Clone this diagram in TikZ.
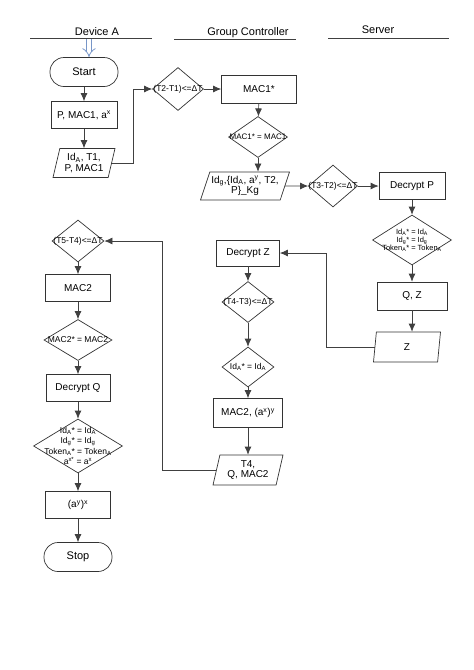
\documentclass[tikz,border=0pt]{standalone}
\usepackage{fontspec}
\setmainfont{Liberation Sans}
\usetikzlibrary{shapes.geometric,arrows.meta}

\begin{document}
\begin{tikzpicture}[x=1pt,y=-1pt,
  box/.style={draw=black!80, line width=0.7pt, minimum width=66pt, minimum height=27pt, inner sep=1pt, align=center, font=\fontsize{10}{11}\selectfont},
  term/.style={box, rounded corners=14pt, minimum width=68pt, minimum height=29pt, font=\fontsize{11}{12}\selectfont},
  io/.style={box, trapezium, trapezium left angle=72, trapezium right angle=108, trapezium stretches body, font=\fontsize{10}{10.5}\selectfont},
  dec/.style={draw=black!80, line width=0.7pt, diamond, inner sep=0pt},
  dtext/.style={font=\fontsize{8.5}{9.5}\selectfont, align=center, inner sep=0pt},
  flow/.style={draw=black!75, line width=0.7pt, -{Latex[length=8pt,width=7pt]}},
  hollow/.style={draw={rgb,255:red,120;green,150;blue,200}, double=white, double distance=4pt, line width=0.8pt, -{Implies[length=5pt]}},
  head/.style={font=\fontsize{11}{12}\selectfont}]
\useasboundingbox (0,0) rectangle (474,670);

% swim lane headers
\node[head] (hdA) at (97,32) {Device A};
\node[head] (hdG) at (248,33) {Group Controller};
\node[head] (hdS) at (378,30) {Server};
\draw[black!75, line width=0.7pt] (30,38) -- (152,38);
\draw[black!75, line width=0.7pt] (174,39) -- (296,39);
\draw[black!75, line width=0.7pt] (328,38) -- (449,38);

% device A, first part
\coordinate (entry) at (89,39);
\node[term] (start) at (84,72) {Start};
\node[box] (sendA) at (84,115) {P, MAC1, a\textsuperscript{x}};
\node[io, minimum width=62pt, minimum height=29pt] (msg1) at (84,163) {Id\textsubscript{A}, T1,\\P, MAC1};
\draw[hollow] (entry) -- (entry |- start.north);
\draw[flow] (start) -- (sendA);
\draw[flow] (sendA) -- (msg1);

% group controller, first part
\node[dec, minimum width=51pt, minimum height=43pt, label={[dtext]center:{(T2-T1)<=ΔT}}] (chk1) at (178,89) {};
\node[box, minimum width=75pt, minimum height=28pt] (mac1) at (259,89) {MAC1*};
\node[dec, minimum width=59pt, minimum height=41pt, label={[dtext, font=\fontsize{8}{9}\selectfont]center:{MAC1* = MAC1}}] (chk2) at (258,137) {};
\node[io, trapezium left angle=67, trapezium right angle=113, minimum width=89pt, minimum height=28pt] (msg2) at (245,186) {Id\textsubscript{g},\{Id\textsubscript{A}, a\textsuperscript{y}, T2,\\P\}\_Kg};
\coordinate (bend1) at (133,89);
\draw[flow] (msg1.east) -| (bend1) -- (chk1.west);
\draw[flow] (chk1) -- (mac1);
\draw[flow] (mac1) -- (chk2);
\draw[flow] (chk2) -- (chk2.south |- msg2.north);

% server
\node[dec, minimum width=49pt, minimum height=42pt, label={[dtext]center:{(T3-T2)<=ΔT}}] (chk3) at (333,186) {};
\node[box] (decP) at (412,186) {Decrypt P};
\node[dec, minimum width=79pt, minimum height=50pt, label={[dtext, font=\fontsize{7.5}{8}\selectfont]center:{Id\textsubscript{A}* = Id\textsubscript{A}\\Id\textsubscript{g}* = Id\textsubscript{g}\\Token\textsubscript{A}* = Token\textsubscript{A}}}] (chk4) at (412,240) {};
\node[box, minimum width=70pt, minimum height=28pt] (qz) at (412,296) {Q, Z};
\node[io, minimum width=67pt, minimum height=30pt] (msgZ) at (407,347) {Z};
\draw[flow] (msg2.east) -- (chk3.west);
\draw[flow] (chk3) -- (decP);
\draw[flow] (decP) -- (chk4);
\draw[flow] (chk4) -- (qz);
\draw[flow] (qz) -- (qz |- msgZ.north);

% group controller, second part
\node[box, minimum width=63pt, minimum height=26pt] (decZ) at (248,253) {Decrypt Z};
\node[dec, minimum width=52pt, minimum height=41pt, label={[dtext]center:{(T4-T3)<=ΔT}}] (chk5) at (248,302) {};
\node[dec, minimum width=52pt, minimum height=40pt, label={[dtext]center:{Id\textsubscript{A}* = Id\textsubscript{A}}}] (chk6) at (248,367) {};
\node[box, minimum width=69pt, minimum height=29pt] (mac2y) at (248,413) {MAC2, (a\textsuperscript{x})\textsuperscript{y}};
\node[io, minimum width=70pt, minimum height=30pt] (msg3) at (248,470) {T4,\\Q, MAC2};
\coordinate (bend2) at (326,253);
\draw[flow] (msgZ.west) -| (bend2) -- (decZ.east);
\draw[flow] (decZ) -- (chk5);
\draw[flow] (chk5) -- (chk6);
\draw[flow] (chk6) -- (mac2y);
\draw[flow] (mac2y) -- (msg3);

% device A, second part
\node[dec, minimum width=52pt, minimum height=42pt, label={[dtext]center:{(T5-T4)<=ΔT}}] (chk7) at (78,241) {};
\node[box, minimum width=65pt] (mac2) at (78,288) {MAC2};
\node[dec, minimum width=68pt, minimum height=41pt, label={[dtext]center:{MAC2* = MAC2}}] (chk8) at (78,340) {};
\node[box, minimum width=64pt] (decQ) at (78,388) {Decrypt Q};
\node[dec, minimum width=89pt, minimum height=54pt, label={[dtext, font=\fontsize{8.5}{10.5}\selectfont]center:{Id\textsubscript{A}* = Id\textsubscript{A}\\Id\textsubscript{g}* = Id\textsubscript{g}\\Token\textsubscript{A}* = Token\textsubscript{A}\\a\textsuperscript{x*} = a\textsuperscript{x}}}] (chk9) at (78,446) {};
\node[box, minimum width=65pt] (keyA) at (78,505) {(a\textsuperscript{y})\textsuperscript{x}};
\node[term] (stop) at (78,557) {Stop};
\coordinate (bend3) at (162,241);
\draw[flow] (msg3.west) -| (bend3) -- (chk7.east);
\draw[flow] (chk7) -- (mac2);
\draw[flow] (mac2) -- (chk8);
\draw[flow] (chk8) -- (decQ);
\draw[flow] (decQ) -- (chk9);
\draw[flow] (chk9) -- (keyA);
\draw[flow] (keyA) -- (stop);
\end{tikzpicture}
\end{document}
